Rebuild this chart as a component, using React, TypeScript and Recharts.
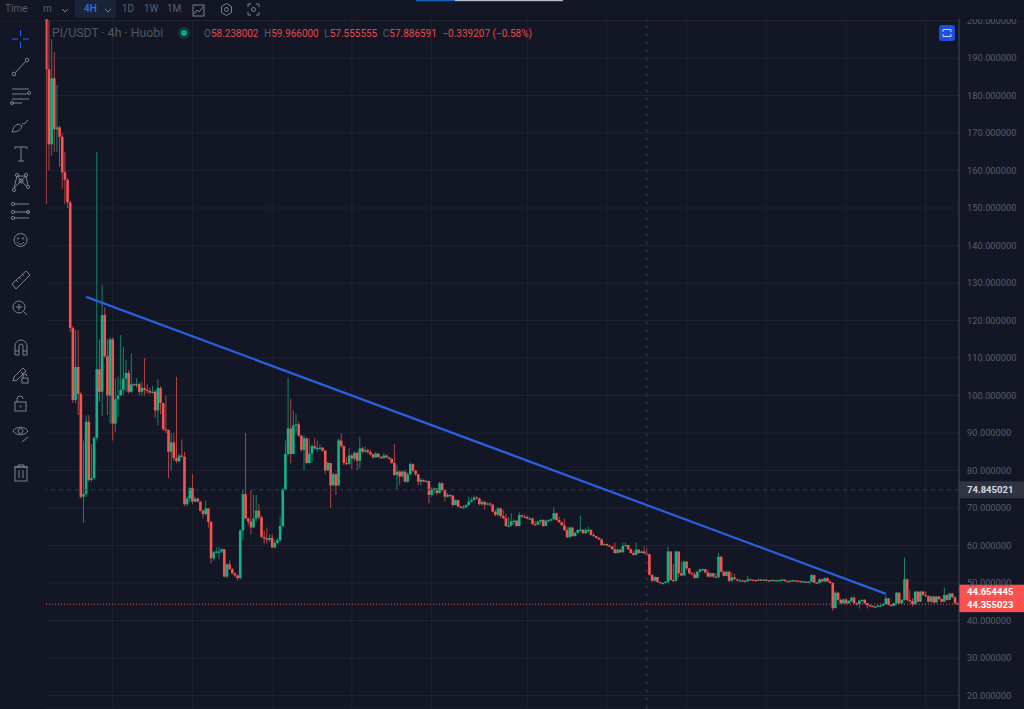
import {
  Bar,
  CartesianGrid,
  ComposedChart,
  Label,
  ReferenceLine,
  XAxis,
  YAxis
} from "recharts";

const BG = "#131725";
const UP = "#10b586";
const DOWN = "#fb5250";
const GRID = "#1e2230";
const MUTED = "#565e6e";
const ICON = "#7b8190";

// 4h candles left to right
const firstOpen = 203;

const closes = [
  187,167,184.6,171,171.5,169,159.5,157.5,151.5,118,
  98.8,107.6,100.4,73,73.8,93,77.5,78,88.7,107,
  101,121.5,110.5,100,115,92.5,99,100,101.5,104.5,
  106,101,103,102.8,103,101,102,101.5,101.2,100.8,
  101,96,102,98,91,90.8,85,87.5,83.3,82.5,
  84,83.7,71,72.5,75.3,71.7,72.5,71.7,69.3,68.4,
  69.9,66.3,56.6,58.2,58.4,58.4,59,51.7,55,53.7,
  52.6,52,51.3,64,73.7,67.2,66.4,64.8,67.2,69.3,
  67.5,62.3,61.9,61.5,62,59.5,60.7,61.4,65.2,75,
  84.4,91.2,84.4,92,92.3,89.3,85.5,88.6,82,84.5,
  86.5,85.9,86,86.1,85.3,80,82,76,79,76,
  88,86.5,82,81.8,84,83.2,84.7,82.6,85.9,85,
  85.4,84.9,84.3,83.5,84.5,83.6,83.3,84,83.5,83.1,
  82,78.8,79.7,78.4,79.7,77,79,81.7,80,79,
  77,77.5,77.1,77.2,73.5,75,75.2,74,76.6,74.8,
  73,73.5,73.3,70.8,72.1,70.4,70.2,70.2,70.8,71.7,
  72.1,72.8,72.5,71,71.6,70.9,71.2,70.9,69,68.2,
  69.9,67.9,67.3,65.2,65.3,66.4,66.6,65.2,68.1,67.7,
  67.6,67.2,67.2,65.7,65.5,66.4,66.8,65.2,66.6,66.8,
  67,68.6,66.8,66.2,65.4,64.1,62.2,64.8,62.5,63.4,
  64.1,64.2,63.3,64.1,64.2,62.8,62.5,62,61.6,60.1,
  60.4,60,59.7,59,58,58.9,58.2,59.9,60.1,59,
  58,57.5,58.9,58,58.4,57.9,57.7,52.2,50.6,51.6,
  50.3,50,50,50.3,58.4,50.8,50.6,58.4,52.6,52,
  55.7,53.9,52.6,52.3,51.3,53,53.6,53.7,52.8,51.7,
  52.6,51.7,51.5,57,53,51.9,53,50.6,51.5,51,
  50.7,50.7,50.6,50.5,51,50.9,50.8,50.6,50.9,50.8,
  50.9,50.7,50.6,50.8,50.7,50.7,50.8,50.9,50.5,50.4,
  50.6,50.7,50.6,50.5,50.3,50.4,50.2,50.3,52.1,50.1,
  50,51,50.4,51.3,50.4,50,43.3,47.4,45.5,44.6,
  45.6,44.6,45.2,46.1,44.6,44.4,45.3,45.5,44.6,44.1,
  43.9,43.7,43.7,44,44,44.4,45.9,44.2,43.9,44.6,
  47.4,44.6,45.5,51,45.5,45.2,44.4,47.7,45,47.7,
  46.8,46.5,45,46.4,44.8,46.4,45.7,45,46.8,45.5,
  47.2,46.2,44.6,44.355,
];

const highs = [
  210,200,195,191.6,182.8,172,170,165,158,152,
  118.5,117.5,117.5,101,88,94.7,94.7,87,89,165,
  115,129.5,123.6,115,115.5,115.5,104.6,105,116.1,113,
  109.5,106.8,111.2,103.3,104.6,103.5,103.7,110,103,102,
  102.5,101.5,104.3,102.5,98,100,91,90,90,105,
  84.5,88.3,85,73,75.5,79,73,72.8,71.8,69.5,
  72,69.9,66.5,58.5,59.5,59.7,59.3,59,55.2,56,
  54,52.8,52.2,64.3,75,90,67.5,74.8,73.5,73.5,
  71,68,64,64.8,63,63,61.5,62,67.7,75.3,
  88,104.8,99.2,96,95,93,89.5,89.4,88.6,88.5,
  87,88.6,88,87,86.3,85.5,82.5,82,79.5,79.2,
  88.5,90,86.8,83.5,86,84.5,85.2,85,89,86.3,
  86.5,85.8,85.5,84.6,85,84.6,83.8,84.6,84.3,83.7,
  83.4,87,81.5,80,80,80,79.5,82.1,81.9,80,
  79,78,77.6,77.5,77.3,75.5,75.5,75.3,77,76.9,
  75,74,73.6,73.5,72.3,72,70.5,70.8,71,73,
  72.8,73.3,73.1,72.8,72,72,71.5,71.6,71,69.5,
  70.2,70,69.5,68.5,67.5,68.6,67,66.8,69,68.3,
  68.2,68,67.5,67.5,66.5,66.6,67,67,66.9,67,
  67.2,70.2,68.8,67.7,66.4,67.2,64.9,65,64.9,63.6,
  64.3,68,64.3,64.6,65.1,64.2,63.4,62.6,62.2,61.9,
  60.6,60.5,60.2,60,60.8,59.2,59.2,60.8,60.8,60.2,
  59.3,58.5,60.8,59,58.6,59.8,59.2,57.8,52.3,51.8,
  51.2,50.3,50.2,50.5,59.7,58.4,55,58.6,58.4,55.7,
  56,55.9,54,53,53,53.2,53.8,53.9,53.7,53.5,
  52.8,52.6,52.6,58,57.2,53.3,53.3,53.3,52.7,52.5,
  51.1,51,50.9,50.8,51.9,51.1,51,50.9,51.2,51.1,
  51.1,51,50.8,51,50.9,50.9,51,51.2,50.9,50.7,
  50.8,50.9,50.8,50.7,50.6,50.6,50.5,50.6,52.4,52.2,
  50.3,51.2,51.2,51.5,51.5,50.8,50.2,47.8,47.6,45.9,
  45.8,46,45.5,46.4,46.4,44.8,45.5,45.7,45.7,44.7,
  44.2,44,43.9,44.2,44.3,44.6,46.6,46,44.4,44.8,
  47.6,47.6,45.8,56.8,51.2,48.2,46,47.9,47.9,47.9,
  47.9,47.7,46.7,46.6,46.6,46.6,46.6,45.9,48.8,47,
  47.4,47.4,46.4,44.8,
];

const lows = [
  151,160,164,165,165,161,155,151,150,117,
  98,98,94.8,72.5,66,73,77,77,77.5,88,
  98.3,94.6,110,94.8,92.5,88,90.3,94.4,100,100,
  101,100.5,100.8,102.5,102,100,100,100,100.5,100.3,
  100.5,94,92,95,90.5,90,78,80,82.5,82,
  82.3,83.4,70.5,70.5,71.5,71,71.5,71.5,69,67.2,
  68,64.8,55.2,56,57.8,56.3,58,51.5,51.2,53.5,
  52.3,51.5,50.6,51,61.3,67,65.5,63,64.6,66.5,
  67,62,60.5,60.5,61,59.3,59.3,60.5,61,65,
  74.5,84,81.9,87,90,89,85,80.1,81.8,82,
  82,85.5,85,85.5,85,79,80,70,76,73.5,
  76.5,86,81.5,81.5,81.5,80.3,82.5,80.1,80.5,84.5,
  84.8,84.5,83.9,83.2,83.4,83.4,83.1,83.2,83.3,82.9,
  81.8,78.6,75,76.2,78.2,76.8,76.8,78.8,79.5,78.5,
  76,76,76.9,76.9,71.2,73,73.8,73.5,73.8,74.5,
  71.7,72.8,72.8,70.4,70.8,70.2,70,70,70,70.5,
  71.4,72,72.3,70.8,70.6,69.5,70.8,70.5,68.8,67.8,
  67.8,67.3,67,65,65,65,65.5,65,65,67.5,
  67.4,67,66.9,65.5,65.3,65.5,65.7,65,65.4,66.2,
  66.4,66.8,66.6,66,65.2,63.9,62,62.5,62.3,62.5,
  63.2,63.6,63,63,63.5,62.6,62.3,61.8,61.4,59.9,
  60,59.8,59.5,58.8,57.8,57.9,58,58.1,59.8,58.8,
  57.8,57.3,57.4,57.8,58,57.7,57.4,52,50.2,50.4,
  50.1,49.8,49.8,49.9,49.9,50.6,50.2,50.4,51.5,51.8,
  52.8,53.5,52.3,52,51.2,51.3,52.8,53.3,52.6,51.5,
  51.5,51.5,51.3,51.3,52.8,51.7,51.8,50.2,50.4,50.9,
  50.5,50.4,50.4,50.2,50.4,50.7,50.5,50.4,50.5,50.6,
  50.6,50.5,50.4,50.5,50.5,50.5,50.6,50.7,50.3,50.2,
  50.3,50.4,50.4,50.3,50.1,50.2,50,50,50.2,49.9,
  49.8,49.9,50.2,50.2,50.2,49.8,42.6,43.3,45.3,44.4,
  44.5,44.4,44.5,44.9,44.4,44,43.2,45.1,44.4,43.2,
  43.7,43.5,43.5,43.6,43.8,43.8,44.2,44,43.7,43.8,
  44.2,44.4,44.4,45.3,45,44.6,43.8,44.2,44.8,44.9,
  46.6,46.3,44.8,44.9,44.6,44.8,45.5,44.8,44.9,45.3,
  45.4,46,44.4,44.2,
];

const priceTicks = [20, 30, 40, 50, 60, 70, 80, 90, 100, 110, 120, 130, 140, 150, 160, 170, 180, 190, 200];
const timeGrid = [25, 55, 85, 115, 145, 181, 211, 241, 271, 301, 331];
const crossIndex = 226;
const crossPrice = 74.845021;
const lastPrice = 44.355023;
const trendStart = { x: 15, y: 126.3 };
const trendEnd = { x: 316, y: 47.1 };

const candles = closes.map((close, i) => {
  const open = i === 0 ? firstOpen : closes[i - 1];
  return {
    i,
    open,
    close,
    high: Math.max(highs[i], open, close),
    low: Math.min(lows[i], open, close)
  };
});

function Candle(props: any) {
  const { x, y, width, height, payload } = props;
  const { open, close, high, low } = payload;
  const perUnit = Math.abs(height) / (high - low);
  const top = y + (high - Math.max(open, close)) * perUnit;
  const bodyH = Math.max(Math.abs(open - close) * perUnit, 1.2);
  const color = close >= open ? UP : DOWN;
  const cx = x + width / 2;
  return (
    <g>
      <line x1={cx} x2={cx} y1={y} y2={y + Math.abs(height)} stroke={color} strokeWidth={1} strokeOpacity={0.7} />
      <rect x={x} y={top} width={width} height={bodyH} fill={color} />
    </g>
  );
}

function PriceTag(props: any) {
  const { viewBox, text, fill, color, dy = 0, hgt = 14 } = props;
  const x = viewBox.x + viewBox.width;
  const y = viewBox.y + dy;
  return (
    <g>
      <rect x={x} y={y - hgt / 2} width={65} height={hgt} fill={fill} />
      <text x={x + 8} y={y + 3.3} fontFamily="Roboto" fontSize={9.500} fontWeight={700} fill={color}>
        {text}
      </text>
    </g>
  );
}

function Toolbar() {
  const common = { fill: "none", stroke: ICON, strokeWidth: 1 };
  return (
    <svg width={1024} height={709} style={{ position: "absolute", left: 0, top: 0, pointerEvents: "none" }}>
      {/* top bar */}
      <rect x={0} y={0} width={1024} height={18} fill={BG} />
      <rect x={0} y={18} width={45.600} height={691} fill={BG} />
      <line x1={0} x2={1024} y1={18.500} y2={18.500} stroke="#0f121c" />
      <rect x={416} y={0} width={39} height={1.200} fill="#1565c0" />
      <rect x={455} y={0} width={108} height={1.200} fill="#b7bac2" />
      <rect x={75} y={0} width={41} height={18} fill="#1a2438" />
      <g fontFamily="Roboto" fontSize={10} fill={MUTED}>
        <text x={5} y={12}>Time</text>
        <text x={43} y={12}>m</text>
        <text x={84} y={12} fill="#1e78e6" fontWeight={500}>4H</text>
        <text x={122} y={12}>1D</text>
        <text x={144} y={12}>1W</text>
        <text x={167} y={12}>1M</text>
      </g>
      <path d="M62 9l3 3 3-3M105 9l3 3 3-3" fill="none" stroke={ICON} strokeWidth={1} />
      <g {...common}>
        <rect x={193} y={5} width={11} height={11} />
        <path d="M194 14l3-4 2 2 4-5" />
        <path d="M226.500 3.500l5 3v6l-5 3-5-3v-6z" />
        <circle cx={226.500} cy={9.500} r={2} />
        <path d="M248 7v-3h3M256 4h3v3M259 12v3h-3M251 15h-3v-3" />
        <circle cx={253.500} cy={9.500} r={2} />
      </g>

      {/* legend */}
      <text x={52} y={37} fontFamily="Roboto" fontSize={12.300} fill="#4e5667">PI/USDT · 4h · Huobi</text>
      <circle cx={184} cy={33} r={6} fill="#0f3a3a" />
      <circle cx={184} cy={33} r={3} fill="#0ea982" />
      <text x={204} y={37} fontFamily="Roboto" fontSize={10} fill={MUTED}>
        O<tspan fill="#e8494d">58.238002</tspan>
        <tspan dx={5.500}>H</tspan><tspan fill="#e8494d">59.966000</tspan>
        <tspan dx={5.500}>L</tspan><tspan fill="#e8494d">57.555555</tspan>
        <tspan dx={5.500}>C</tspan><tspan fill="#e8494d">57.886591</tspan>
        <tspan dx={5.500} fill="#e8494d">−0.339207 (−0.58%)</tspan>
      </text>
      <rect x={939} y={25} width={16} height={16} rx={3} fill="#1f4fd8" />
      <path d="M943 32v-2.500h8v2.500M951 34v2.500h-8v-2.500" fill="none" stroke="#c8d4f4" strokeWidth={1} />

      {/* drawing tools */}
      <g stroke="#2962ff" strokeWidth={1}>
        <path d="M12 39h6M23 39h6M20.500 30v6M20.500 42v6" />
      </g>
      <g {...common}>
        <circle cx={14} cy={74} r={1.800} /><circle cx={27} cy={60} r={1.800} /><path d="M15.500 72.500l10-11" />
        <path d="M12 89h17M12 94h15M12 99h17M12 103h10" /><circle cx={29} cy={93} r={1.500} /><circle cx={12} cy={103} r={1.500} />
        <path d="M12 132c1-4 3-7 6-8l4 2c-1 3-3 6-10 6M22 124c2 0 4-1 6-4" />
        <path d="M15 149v-2h12v2M21 147v14M18 161h6" />
        <circle cx={14} cy={190} r={1.600} /><circle cx={28} cy={187} r={1.600} /><circle cx={21} cy={181} r={2} /><circle cx={17} cy={175} r={1.600} /><circle cx={26} cy={175} r={1.600} />
        <path d="M14 188l3-12 9 0 2 10M17 176l9 10M26 176l-12 12" />
        <path d="M14 204h15M14 212h15M14 218h15" /><circle cx={13} cy={204} r={1.600} /><circle cx={13} cy={212} r={1.600} /><circle cx={13} cy={218} r={1.600} /><circle cx={28} cy={212} r={1.600} />
        <circle cx={20.500} cy={240} r={6.500} /><circle cx={18} cy={238.500} r={0.700} /><circle cx={23} cy={238.500} r={0.700} /><path d="M17 242c2 3 5 3 7 0" />
        <path d="M12 284l14-13 4 4-14 14zM16 280l2 2M19 277l2 2M22 274l2 2" />
        <circle cx={19} cy={307} r={6} /><path d="M23.500 311.500l3.500 3.500M16 307h6M19 304v6" />
        <path d="M15 355v-9a6 6 0 0 1 12 0v9h-4v-9a2 2 0 0 0-4 0v9zM15 351h4M23 351h4" />
        <path d="M13 381l1-4 9-9 3 3-9 9zM21 372l3 3" /><rect x={22} y={378} width={6} height={5} /><path d="M23 378v-2a2 2 0 0 1 4 0" />
        <rect x={15} y={402} width={11} height={9} /><path d="M17 402v-3a3 3 0 0 1 6 0" /><circle cx={20.500} cy={406.500} r={0.600} />
        <path d="M13 431c3-5 12-5 15 0c-3 5-12 5-15 0z" /><circle cx={20.500} cy={431} r={2.500} /><path d="M22 442l6-5" />
        <rect x={15} y={467} width={12} height={14} /><path d="M14 467h14M18 467v-2h6v2M19 470v8M23 470v8" />
      </g>
    </svg>
  );
}

export default function App() {
  return (
    <div style={{ position: "absolute", left: 0, top: 0, width: 1024, height: 709, background: BG, overflow: "hidden" }}>
      <ComposedChart
        width={1024}
        height={709}
        data={candles}
        margin={{ top: 18, right: 0, bottom: 0, left: 45 }}
        barCategoryGap={0}
      >
        <CartesianGrid stroke={GRID} strokeWidth={1} />
        <XAxis dataKey="i" hide ticks={timeGrid} interval={0} />
        <YAxis
          orientation="right"
          width={65}
          domain={[16.4, 200.67]}
          allowDataOverflow
          ticks={priceTicks}
          interval={0}
          tickLine={false}
          axisLine={{ stroke: "#3d4452" }}
          tickMargin={2}
          tickFormatter={(v: number) => v.toFixed(6)}
          tick={{ fill: MUTED, fontSize: 9.3, fontFamily: "Roboto", textAnchor: "start" }}
        />
        <Bar
          dataKey={(d: any) => [d.low, d.high]}
          barSize={2.6}
          shape={Candle}
          isAnimationActive={false}
        />
        <ReferenceLine x={crossIndex} stroke="#2b3d52" strokeDasharray="4 4" />
        <ReferenceLine y={crossPrice} stroke="#2b3d52" strokeDasharray="4 4">
          <Label content={<PriceTag text="74.845021" fill="#2f3440" color="#d8dae0" hgt={17} />} />
        </ReferenceLine>
        <ReferenceLine y={lastPrice} stroke="#fb5250" strokeDasharray="1 2">
          <Label content={<PriceTag text="44.654445" fill="#fb5250" color="#ffffff" dy={-12.500} />} />
          <Label content={<PriceTag text="44.355023" fill="#fb5250" color="#ffffff" dy={1} />} />
        </ReferenceLine>
        <ReferenceLine segment={[trendStart, trendEnd]} stroke="#2a5fe0" strokeWidth={2.200} />
      </ComposedChart>
      <Toolbar />
    </div>
  );
}
